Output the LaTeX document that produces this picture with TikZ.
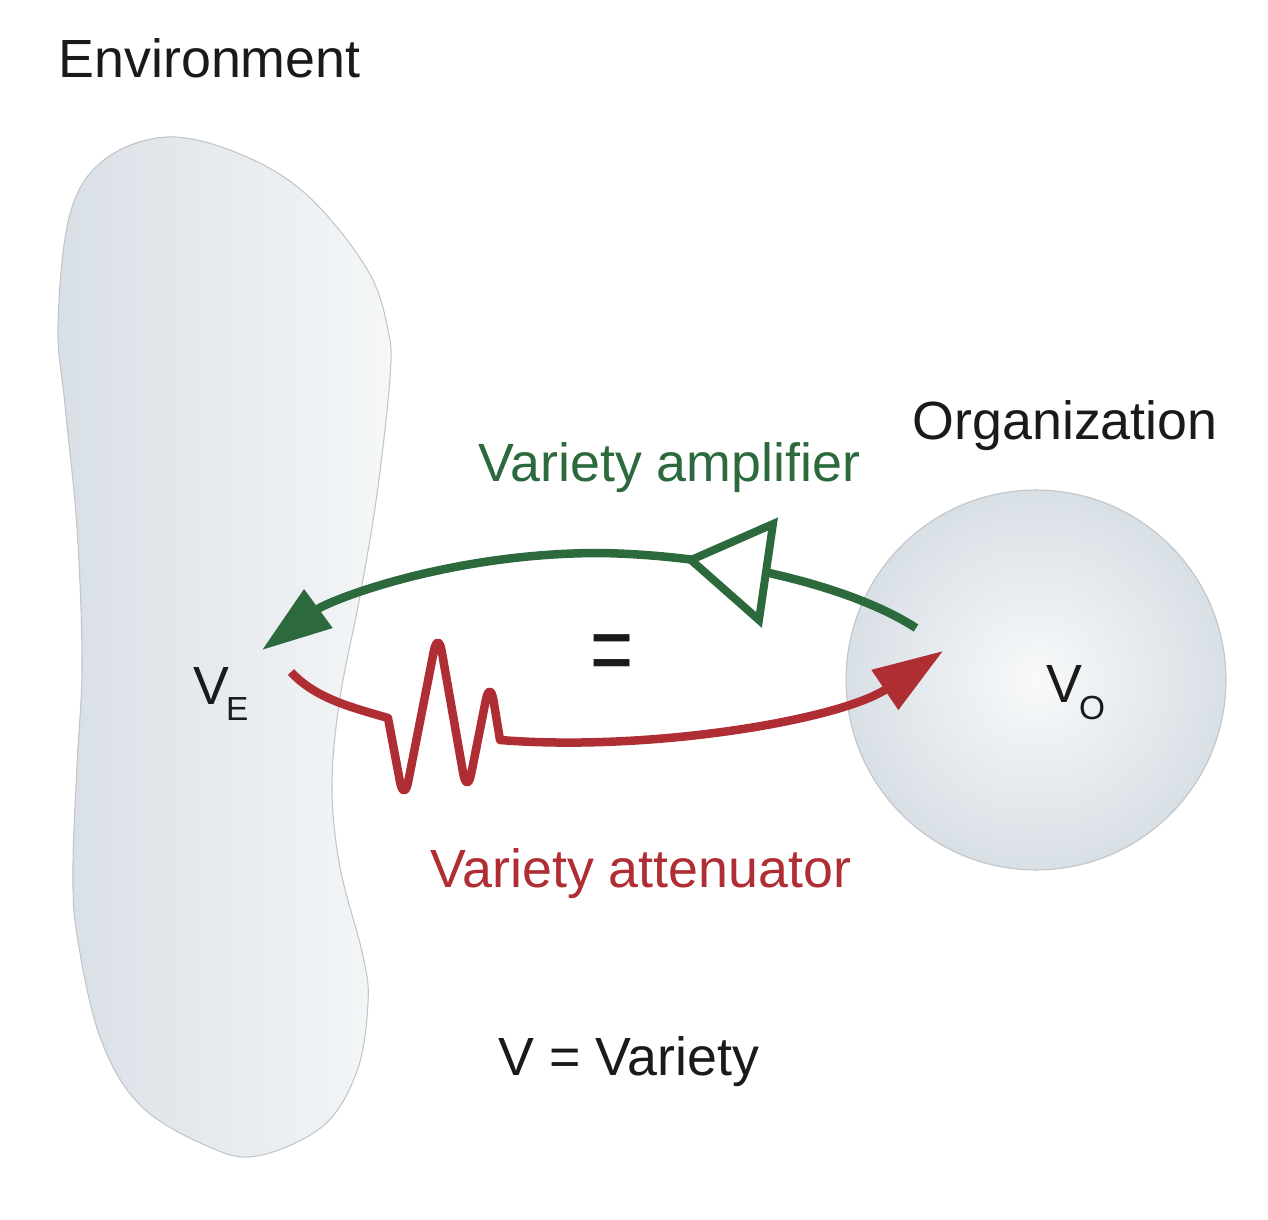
\documentclass[tikz,border=0pt]{standalone}
\usepackage{fontspec}
\setmainfont{Liberation Sans}
\usetikzlibrary{arrows.meta}

\definecolor{ampgreen}{RGB}{44,106,62}
\definecolor{attred}{RGB}{175,46,52}
\definecolor{envdark}{RGB}{216,223,229}
\definecolor{envlight}{RGB}{245,247,248}
\definecolor{rim}{RGB}{192,197,201}
\definecolor{ink}{RGB}{26,26,26}

\tikzset{
  lbltext/.style={anchor=base west, inner sep=0pt, text=ink, font=\fontsize{15.3}{18}\selectfont},
  ampline/.style={draw=ampgreen, line width=0.85mm, -{Triangle[length=7mm,width=4.6mm]}},
  attline/.style={draw=attred, line width=0.85mm, line join=round, -{Triangle[length=7mm,width=4.6mm]}},
}

\begin{document}
\begin{tikzpicture}[x=0.1mm, y=-0.1mm]
    \useasboundingbox (0,0) rectangle (1268,1220);
    % environment
    \path [draw=rim, line width=0.3pt, left color=envdark, right color=envlight]
          plot [smooth cycle, tension=0.6] coordinates {
            (167,137) (240,154) (307,195) (367,269) (388,330) (390,378)
            (377,494) (360,596) (340,698) (332,786) (340,867) (363,956)
            (368,1003) (357,1071) (323,1126) (257,1156) (207,1146) (140,1105)
            (100,1037) (77,935) (73,867) (77,765) (82,664) (77,528)
            (65,405) (58,324) (70,214) (104,160)};
    % organization
    \node [circle, minimum size=38mm, draw=rim, line width=0.3pt,
           inner color=envlight!70!white, outer color=envdark] (org) at (1036,680) {};
    \node [lbltext] (envlabel) at (58,78) {Environment};
    \node [lbltext] (orglabel) at (912,440) {Organization};
    \node [lbltext, text=ampgreen] (amplabel) at (478,482) {Variety amplifier};
    \node [lbltext, text=attred] (attlabel) at (430,887) {Variety attenuator};
    \node [lbltext] (key) at (498,1075) {V = Variety};
    \node [text=ink, inner sep=0pt, font=\fontsize{21}{21}\selectfont] (equal) at (612,659) {\scalebox{1}[1.35]{=}};
    \node [lbltext] (ve) at (193,705) {V\kern-1pt\raisebox{-4.3pt}{\fontsize{9.5}{10}\selectfont E}};
    \node [lbltext] (vo) at (1046,703) {V\kern-1pt\raisebox{-4.8pt}{\fontsize{9.5}{10}\selectfont O}};
    % loop ends
    \coordinate (ampstart) at (916,628);
    \coordinate (ampend) at (262,650);
    \coordinate (attstart) at (291,672);
    \coordinate (attend) at (943,651);
    % amplifier
    \draw [ampline] (ampstart) .. controls (850,585) and (720,555) .. (600,553)
          .. controls (450,553) and (330,600) .. (ampend);
    \filldraw [draw=ampgreen, fill=white, line width=0.8mm] (691,560) -- (773,524) -- (759,620) -- cycle;
    % attenuator
    \draw [attline] (attstart) .. controls (315,698) and (350,707) .. (388,718)
          [rounded corners=2.2mm] -- (404,803) -- (438,630) -- (467,795) -- (490,679)
          [sharp corners] -- (500,740) .. controls (650,752) and (840,720) .. (attend);
\end{tikzpicture}
\end{document}
